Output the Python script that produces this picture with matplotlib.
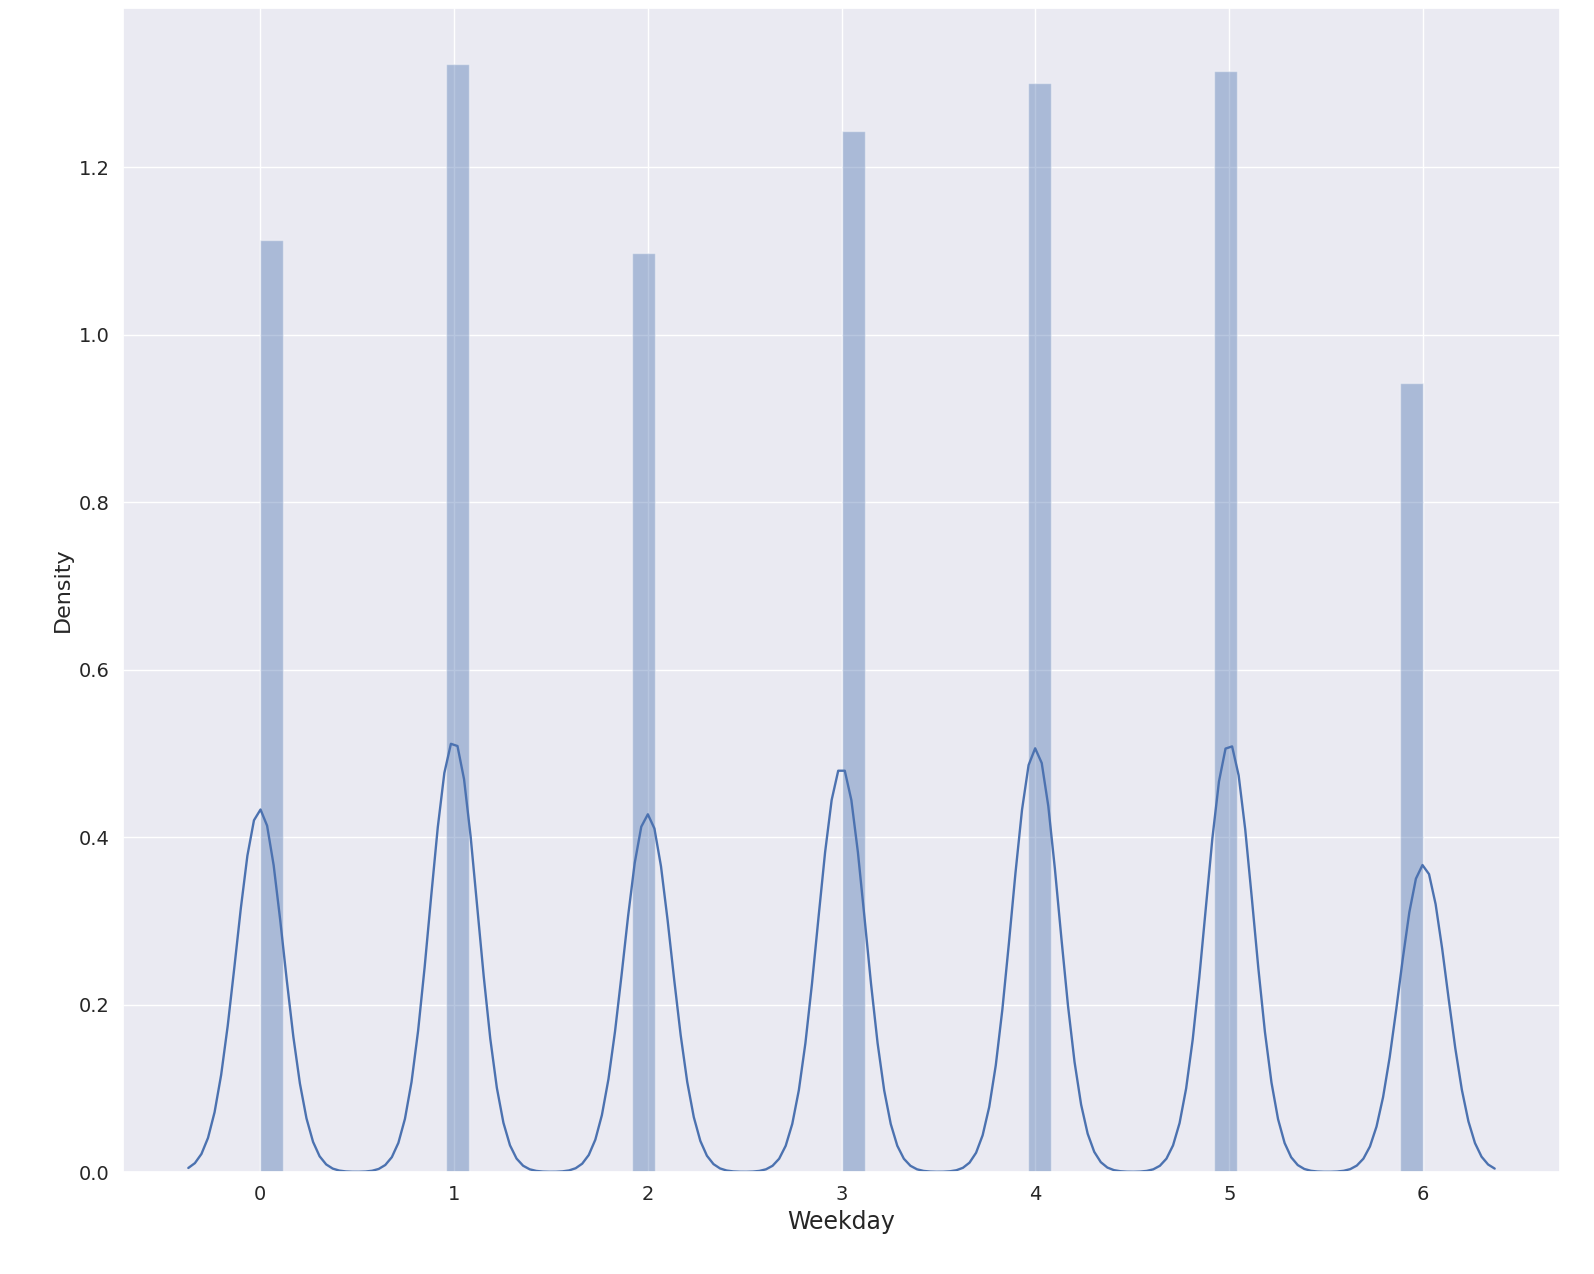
import numpy as np
import matplotlib
matplotlib.use("Agg")
import matplotlib.pyplot as plt
import seaborn as sns

sns.set_theme()
weekdays = [0, 1, 2, 3, 4, 5, 6]
densities = [1.11, 1.32, 1.095, 1.24, 1.297, 1.312, 0.94]  # histogram heights
n_bins = 50
bandwidth = 0.123

bin_width = (max(weekdays) - min(weekdays)) / n_bins
weights = np.array(densities) * bin_width
weights = weights / weights.sum()

fig = plt.figure(figsize=(15.94, 12.74), dpi=100)
ax = fig.add_axes([123/1594, 1 - 1172/1274, (1560-123)/1594, (1172-8)/1274])
ax.hist(weekdays, bins=n_bins, range=(0, 6), weights=weights, density=True,
        color='#4C72B0', alpha=0.4)
xs = np.linspace(min(weekdays) - 3*bandwidth, max(weekdays) + 3*bandwidth, 200)
ys = np.zeros_like(xs)
for w, d in zip(weekdays, weights):
    ys += d * np.exp(-0.5*((xs - w)/bandwidth)**2) / (np.sqrt(2*np.pi)*bandwidth)
ax.plot(xs, ys, color='#4C72B0', lw=1.7)
ax.set_ylim(0, 1.39)
ax.set_xlabel('Weekday', fontsize=17)
ax.set_ylabel('Density', fontsize=16)
ax.tick_params(labelsize=14)
fig.savefig('out.png', dpi=100)
